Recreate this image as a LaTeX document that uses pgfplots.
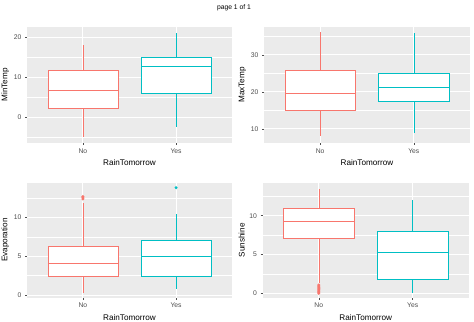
\documentclass[border=0pt]{standalone}
\usepackage{pgfplots}
\pgfplotsset{compat=1.18}
\usepgfplotslibrary{statistics}
\usepackage{fontspec}
\setmainfont{Liberation Sans}
\definecolor{rred}{HTML}{F8766D}
\definecolor{rcyan}{HTML}{00BFC4}
\definecolor{panel}{HTML}{EBEBEB}
\definecolor{ticklab}{HTML}{4D4D4D}
\pgfplotsset{gg/.style={
  scale only axis, anchor=south west,
  xmin=0.4, xmax=2.6, xtick={1,2}, xticklabels={No,Yes},
  axis background/.style={fill=panel},
  axis line style={draw=none},
  grid=both, xminorgrids=false,
  major grid style={white, line width=0.9pt},
  minor grid style={white, line width=0.45pt},
  tick align=outside, xtick pos=bottom, ytick pos=left,
  major tick length=2pt, minor tick length=0pt,
  tick style={ticklab, line width=0.5pt},
  ticklabel style={font=\fontsize{6.8}{7}\selectfont, text=ticklab},
  label style={font=\fontsize{8.2}{9}\selectfont},
  ylabel shift=-2pt,
  xlabel={RainTomorrow},
  /pgf/number format/assume math mode=true,
  boxplot/draw direction=y,
  boxplot/box extend=0.75, boxplot/whisker extend=0,
}}
\pgfplotsset{
  bxr/.style={rred, line width=0.6pt,
    boxplot/every box/.style={draw=rred, fill=white, line width=0.6pt},
    boxplot/every whisker/.style={draw=rred, line width=0.6pt},
    boxplot/every median/.style={draw=rred, line width=1.1pt}},
  bxc/.style={rcyan, line width=0.6pt,
    boxplot/every box/.style={draw=rcyan, fill=white, line width=0.6pt},
    boxplot/every whisker/.style={draw=rcyan, line width=0.6pt},
    boxplot/every median/.style={draw=rcyan, line width=1.1pt}}}
\begin{document}
\begin{tikzpicture}
\path[use as bounding box] (0,0) rectangle (474bp,322bp);
\node[font=\fontsize{6.8}{7}\selectfont] at (234bp,314bp) {page 1 of 1};
% MinTemp
\begin{axis}[gg, at={(27bp,179bp)}, width=205bp, height=116bp,
  ymin=-6.4, ymax=22.6, ytick={0,10,20}, minor ytick={-5,5,15}, ylabel={MinTemp}]
\addplot[bxr, boxplot prepared={draw position=1, lower whisker=-4.85, lower quartile=2.25, median=6.65, upper quartile=11.9, upper whisker=18.1}] coordinates {};
\addplot[bxc, boxplot prepared={draw position=2, lower whisker=-2.35, lower quartile=6.0, median=12.65, upper quartile=15.15, upper whisker=21.15}] coordinates {};
\end{axis}
% MaxTemp
\begin{axis}[gg, at={(264bp,179bp)}, width=206bp, height=116bp,
  ymin=6.2, ymax=37.5, ytick={10,20,30}, minor ytick={15,25,35}, ylabel={MaxTemp}]
\addplot[bxr, boxplot prepared={draw position=1, lower whisker=8.0, lower quartile=15.0, median=19.6, upper quartile=25.8, upper whisker=36.1}] coordinates {};
\addplot[bxc, boxplot prepared={draw position=2, lower whisker=8.9, lower quartile=17.4, median=21.2, upper quartile=25.1, upper whisker=35.8}] coordinates {};
\end{axis}
% Evaporation
\begin{axis}[gg, at={(27bp,24.3bp)}, width=205bp, height=115bp,
  ymin=-0.35, ymax=14.5, ytick={0,5,10}, minor ytick={2.5,7.5,12.5}, ylabel={Evaporation}]
\addplot[bxr, boxplot prepared={draw position=1, lower whisker=0.2, lower quartile=2.45, median=4.1, upper quartile=6.25, upper whisker=11.85}] coordinates {};
\addplot[bxc, boxplot prepared={draw position=2, lower whisker=0.75, lower quartile=2.45, median=4.95, upper quartile=7.0, upper whisker=10.5}] coordinates {};
\addplot[only marks, mark=*, mark size=1.3pt, rred] coordinates {(1,12.4) (1,12.55) (1,12.7)};
\addplot[only marks, mark=*, mark size=1.3pt, rcyan] coordinates {(2,13.85)};
\end{axis}
% Sunshine
\begin{axis}[gg, at={(262.5bp,24.3bp)}, width=206.5bp, height=115bp,
  ymin=-0.55, ymax=14.25, ytick={0,5,10}, minor ytick={2.5,7.5,12.5}, ylabel={Sunshine}]
\addplot[bxr, boxplot prepared={draw position=1, lower whisker=1.4, lower quartile=7.1, median=9.25, upper quartile=10.95, upper whisker=13.5}] coordinates {};
\addplot[bxc, boxplot prepared={draw position=2, lower whisker=0.0, lower quartile=1.8, median=5.3, upper quartile=8.05, upper whisker=12.0}] coordinates {};
\addplot[only marks, mark=*, mark size=1.2pt, rred] coordinates {(1,0.0) (1,0.1) (1,0.2) (1,0.3) (1,0.4) (1,0.5) (1,0.6) (1,0.7) (1,0.8) (1,0.9) (1,1.0) (1,1.1)};
\end{axis}
\end{tikzpicture}
\end{document}
